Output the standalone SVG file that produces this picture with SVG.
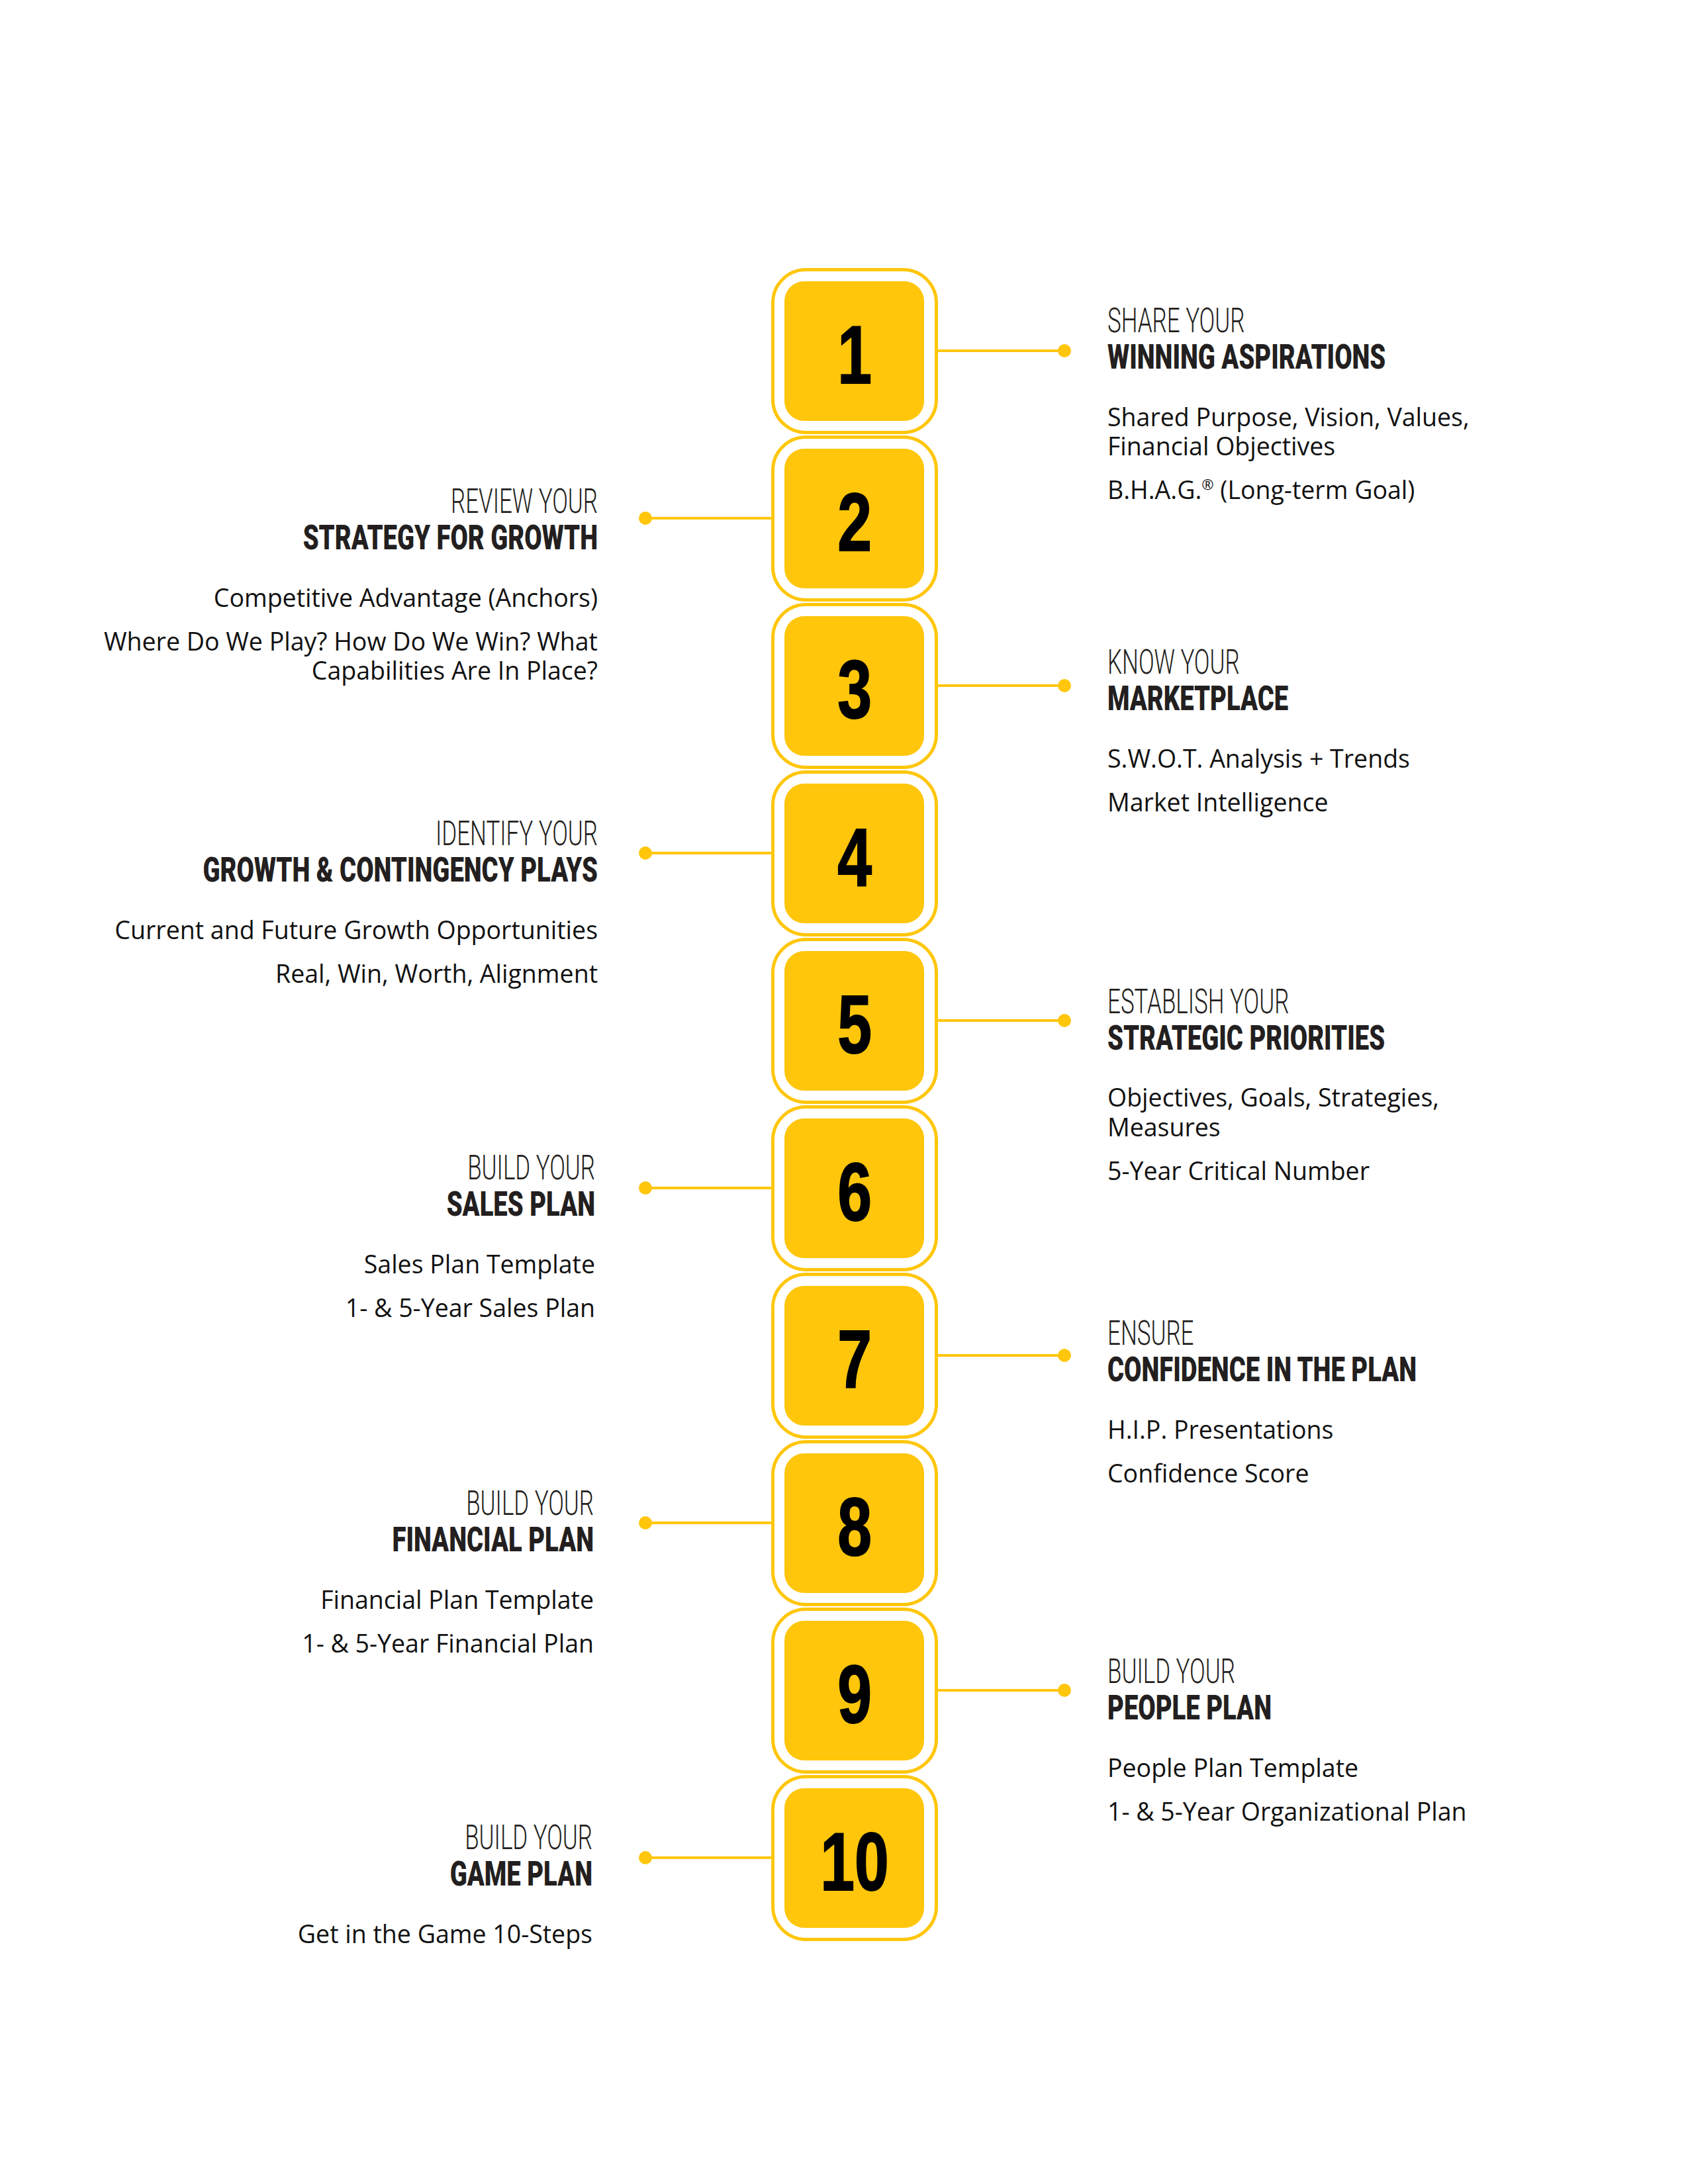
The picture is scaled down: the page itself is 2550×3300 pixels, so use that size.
<svg xmlns="http://www.w3.org/2000/svg" width="2550" height="3300" viewBox="0 0 2550 3300">
<style>
.outer{fill:#fff;stroke:#FFC60B;stroke-width:5}
.inner{fill:#FFC60B}
.num{font-family:"Liberation Sans",Arial,sans-serif;font-weight:700;font-size:124px;fill:#000;stroke:#000;stroke-width:2;text-anchor:middle}
.hl{font-family:Roboto,"Liberation Sans",sans-serif;font-weight:300;font-size:52px;fill:#231F20}
.hb{font-family:Roboto,"Liberation Sans",sans-serif;font-weight:900;font-size:52px;fill:#231F20}
.b{font-family:"Open Sans","Liberation Sans",sans-serif;font-size:37.5px;fill:#111}
.r{text-anchor:end}
.ln{stroke:#FFC60B;stroke-width:4;fill:none}
.dot{fill:#FFC60B}
</style>
<rect width="2550" height="3300" fill="#fff"/>
<g id="connectors">
<line class="ln" x1="1416" y1="530" x2="1608" y2="530"/><circle class="dot" cx="1608" cy="530" r="10"/>
<line class="ln" x1="975" y1="783" x2="1166" y2="783"/><circle class="dot" cx="975" cy="783" r="10"/>
<line class="ln" x1="1416" y1="1036" x2="1608" y2="1036"/><circle class="dot" cx="1608" cy="1036" r="10"/>
<line class="ln" x1="975" y1="1289" x2="1166" y2="1289"/><circle class="dot" cx="975" cy="1289" r="10"/>
<line class="ln" x1="1416" y1="1542" x2="1608" y2="1542"/><circle class="dot" cx="1608" cy="1542" r="10"/>
<line class="ln" x1="975" y1="1795" x2="1166" y2="1795"/><circle class="dot" cx="975" cy="1795" r="10"/>
<line class="ln" x1="1416" y1="2048" x2="1608" y2="2048"/><circle class="dot" cx="1608" cy="2048" r="10"/>
<line class="ln" x1="975" y1="2301" x2="1166" y2="2301"/><circle class="dot" cx="975" cy="2301" r="10"/>
<line class="ln" x1="1416" y1="2554" x2="1608" y2="2554"/><circle class="dot" cx="1608" cy="2554" r="10"/>
<line class="ln" x1="975" y1="2807" x2="1166" y2="2807"/><circle class="dot" cx="975" cy="2807" r="10"/>
</g>

<g id="step1">
<rect class="outer" x="1167.5" y="407.5" width="247" height="246" rx="50"/>
<rect class="inner" x="1185" y="425" width="211" height="211" rx="30"/>
<text class="num" transform="translate(1291,579) scale(0.75,1)">1</text>
<text class="hl" transform="translate(1673,502) scale(0.672,1)">SHARE YOUR</text>
<text class="hb" transform="translate(1673,557) scale(0.735,1)">WINNING ASPIRATIONS</text>
<text class="b" x="1673" y="644">Shared Purpose, Vision, Values,</text>
<text class="b" x="1673" y="688">Financial Objectives</text>
<text class="b" x="1673" y="754">B.H.A.G.<tspan font-size="22" dy="-14">®</tspan><tspan dy="14"> (Long-term Goal)</tspan></text>
</g>

<g id="step2">
<rect class="outer" x="1167.5" y="660.5" width="247" height="246" rx="50"/>
<rect class="inner" x="1185" y="678" width="211" height="211" rx="30"/>
<text class="num" transform="translate(1291,832) scale(0.75,1)">2</text>
<text class="hl r" transform="translate(903,775) scale(0.672,1)">REVIEW YOUR</text>
<text class="hb r" transform="translate(903,830) scale(0.735,1)">STRATEGY FOR GROWTH</text>
<text class="b r" x="903" y="917">Competitive Advantage (Anchors)</text>
<text class="b r" x="903" y="983">Where Do We Play? How Do We Win? What</text>
<text class="b r" x="903" y="1027">Capabilities Are In Place?</text>
</g>

<g id="step3">
<rect class="outer" x="1167.5" y="913.5" width="247" height="246" rx="50"/>
<rect class="inner" x="1185" y="931" width="211" height="211" rx="30"/>
<text class="num" transform="translate(1291,1085) scale(0.75,1)">3</text>
<text class="hl" transform="translate(1673,1018) scale(0.672,1)">KNOW YOUR</text>
<text class="hb" transform="translate(1673,1073) scale(0.735,1)">MARKETPLACE</text>
<text class="b" x="1673" y="1160">S.W.O.T. Analysis + Trends</text>
<text class="b" x="1673" y="1226">Market Intelligence</text>
</g>

<g id="step4">
<rect class="outer" x="1167.5" y="1166.5" width="247" height="246" rx="50"/>
<rect class="inner" x="1185" y="1184" width="211" height="211" rx="30"/>
<text class="num" transform="translate(1291,1338) scale(0.75,1)">4</text>
<text class="hl r" transform="translate(903,1277) scale(0.672,1)">IDENTIFY YOUR</text>
<text class="hb r" transform="translate(903,1332) scale(0.735,1)">GROWTH &amp; CONTINGENCY PLAYS</text>
<text class="b r" x="903" y="1419">Current and Future Growth Opportunities</text>
<text class="b r" x="903" y="1485">Real, Win, Worth, Alignment</text>
</g>

<g id="step5">
<rect class="outer" x="1167.5" y="1419.5" width="247" height="246" rx="50"/>
<rect class="inner" x="1185" y="1437" width="211" height="211" rx="30"/>
<text class="num" transform="translate(1291,1591) scale(0.75,1)">5</text>
<text class="hl" transform="translate(1673,1531) scale(0.672,1)">ESTABLISH YOUR</text>
<text class="hb" transform="translate(1673,1586) scale(0.735,1)">STRATEGIC PRIORITIES</text>
<text class="b" x="1673" y="1672">Objectives, Goals, Strategies,</text>
<text class="b" x="1673" y="1717">Measures</text>
<text class="b" x="1673" y="1783">5-Year Critical Number</text>
</g>

<g id="step6">
<rect class="outer" x="1167.5" y="1672.5" width="247" height="246" rx="50"/>
<rect class="inner" x="1185" y="1690" width="211" height="211" rx="30"/>
<text class="num" transform="translate(1291,1844) scale(0.75,1)">6</text>
<text class="hl r" transform="translate(899,1782) scale(0.672,1)">BUILD YOUR</text>
<text class="hb r" transform="translate(899,1837) scale(0.735,1)">SALES PLAN</text>
<text class="b r" x="899" y="1924">Sales Plan Template</text>
<text class="b r" x="899" y="1990">1- &amp; 5-Year Sales Plan</text>
</g>

<g id="step7">
<rect class="outer" x="1167.5" y="1925.5" width="247" height="246" rx="50"/>
<rect class="inner" x="1185" y="1943" width="211" height="211" rx="30"/>
<text class="num" transform="translate(1291,2097) scale(0.75,1)">7</text>
<text class="hl" transform="translate(1673,2032) scale(0.672,1)">ENSURE</text>
<text class="hb" transform="translate(1673,2087) scale(0.735,1)">CONFIDENCE IN THE PLAN</text>
<text class="b" x="1673" y="2174">H.I.P. Presentations</text>
<text class="b" x="1673" y="2240">Confidence Score</text>
</g>

<g id="step8">
<rect class="outer" x="1167.5" y="2178.5" width="247" height="246" rx="50"/>
<rect class="inner" x="1185" y="2196" width="211" height="211" rx="30"/>
<text class="num" transform="translate(1291,2350) scale(0.75,1)">8</text>
<text class="hl r" transform="translate(897,2289) scale(0.672,1)">BUILD YOUR</text>
<text class="hb r" transform="translate(897,2344) scale(0.735,1)">FINANCIAL PLAN</text>
<text class="b r" x="897" y="2431">Financial Plan Template</text>
<text class="b r" x="897" y="2497">1- &amp; 5-Year Financial Plan</text>
</g>

<g id="step9">
<rect class="outer" x="1167.5" y="2431.5" width="247" height="246" rx="50"/>
<rect class="inner" x="1185" y="2449" width="211" height="211" rx="30"/>
<text class="num" transform="translate(1291,2603) scale(0.75,1)">9</text>
<text class="hl" transform="translate(1673,2543) scale(0.672,1)">BUILD YOUR</text>
<text class="hb" transform="translate(1673,2598) scale(0.735,1)">PEOPLE PLAN</text>
<text class="b" x="1673" y="2685">People Plan Template</text>
<text class="b" x="1673" y="2751">1- &amp; 5-Year Organizational Plan</text>
</g>

<g id="step10">
<rect class="outer" x="1167.5" y="2684.5" width="247" height="246" rx="50"/>
<rect class="inner" x="1185" y="2702" width="211" height="211" rx="30"/>
<text class="num" transform="translate(1291,2856) scale(0.75,1)">10</text>
<text class="hl r" transform="translate(895,2794) scale(0.672,1)">BUILD YOUR</text>
<text class="hb r" transform="translate(895,2849) scale(0.735,1)">GAME PLAN</text>
<text class="b r" x="895" y="2936">Get in the Game 10-Steps</text>
</g>
</svg>
